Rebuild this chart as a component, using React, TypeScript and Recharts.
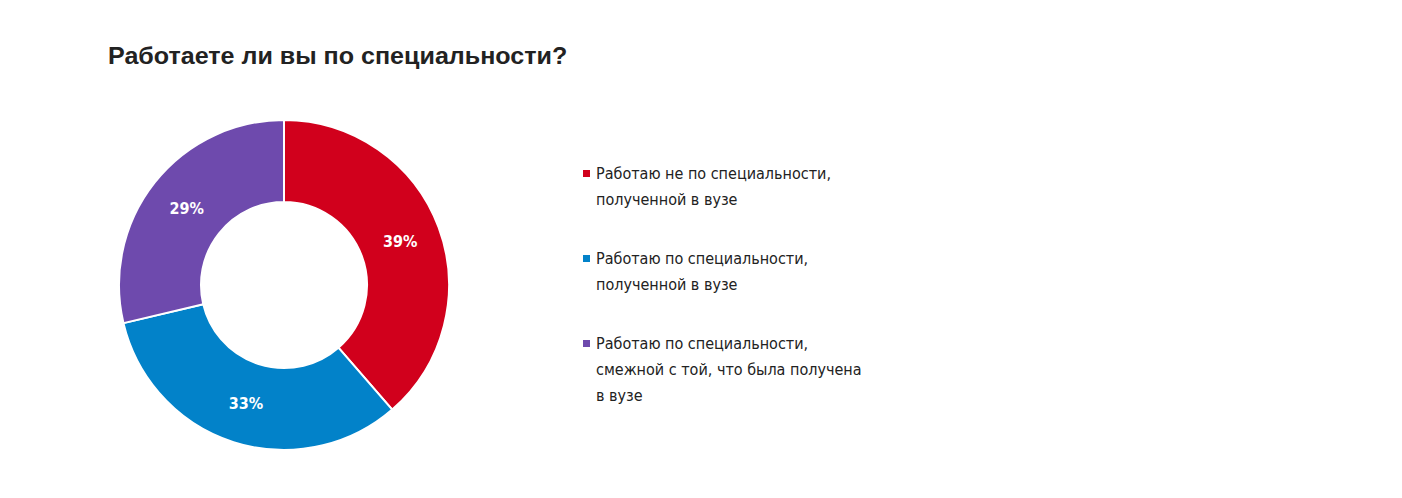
import { PieChart, Pie, Cell, Legend } from "recharts";

const categories = [
  "Работаю не по специальности, полученной в вузе",
  "Работаю по специальности, полученной в вузе",
  "Работаю по специальности, смежной с той, что была получена в вузе",
];
const values = [39, 33, 29];
const legendLines = [
  ["Работаю не по специальности,", "полученной в вузе"],
  ["Работаю по специальности,", "полученной в вузе"],
  ["Работаю по специальности,", "смежной с той, что была получена", "в вузе"],
];
const COLORS = ["#d1001c", "#0282c9", "#6e4aad"];

const data = categories.map((name, i) => ({ name, value: values[i] }));

const RAD = Math.PI / 180;

const renderLabel = (props: any) => {
  const { cx, cy, midAngle, innerRadius, outerRadius, value } = props;
  const r = (innerRadius + outerRadius) / 2;
  const x = cx + r * Math.cos(-midAngle * RAD);
  const y = cy + r * Math.sin(-midAngle * RAD);
  return (
    <text
      x={x}
      y={y}
      fill="#fff"
      textAnchor="middle"
      dominantBaseline="central"
      fontSize={16}
      fontWeight="bold"
      fontFamily="'Liberation Sans Narrow', 'DejaVu Sans Condensed', sans-serif"
    >
      {`${value}%`}
    </text>
  );
};

const renderLegend = () => (
  <div>
    {legendLines.map((lines, i) => (
      <div key={i} style={{ display: "flex", marginBottom: 33 }}>
        <div
          style={{
            width: 7,
            height: 7,
            background: COLORS[i],
            marginTop: 9,
            marginRight: 6,
            flexShrink: 0,
          }}
        />
        <div>
          {lines.map((l, j) => (
            <div key={j} style={{ lineHeight: "26px", height: 26 }}>
              {l}
            </div>
          ))}
        </div>
      </div>
    ))}
  </div>
);

export default function App() {
  return (
    <div
      style={{
        position: "absolute",
        left: 0,
        top: 0,
        width: 1402,
        height: 498,
        background: "#fff",
      }}
    >
      <div
        style={{
          position: "absolute",
          left: 108,
          top: 43,
          fontFamily: "'Liberation Sans', Arial, sans-serif",
          fontWeight: "bold",
          fontSize: 23,
          color: "#222",
          whiteSpace: "nowrap",
          transform: "scaleX(1.09)",
          transformOrigin: "left center",
        }}
      >
        Работаете ли вы по специальности?
      </div>
      <PieChart
        width={1402}
        height={498}
        margin={{ top: 0, right: 0, bottom: 0, left: 0 }}
        style={{ position: "absolute", left: 0, top: 0 }}
      >
        <Pie
          data={data}
          dataKey="value"
          cx={284}
          cy={285}
          innerRadius={83}
          outerRadius={165}
          startAngle={90}
          endAngle={-270}
          stroke="#fff"
          strokeWidth={2}
          label={renderLabel}
          labelLine={false}
          isAnimationActive={false}
        >
          {data.map((_, i) => (
            <Cell key={i} fill={COLORS[i]} />
          ))}
        </Pie>
        <Legend
          content={renderLegend}
          layout="vertical"
          wrapperStyle={{
            position: "absolute",
            left: 583,
            top: 161,
            width: 320,
            fontFamily: "'Liberation Sans Narrow', 'DejaVu Sans Condensed', sans-serif",
            fontSize: 16,
            color: "#222",
          }}
        />
      </PieChart>
    </div>
  );
}
